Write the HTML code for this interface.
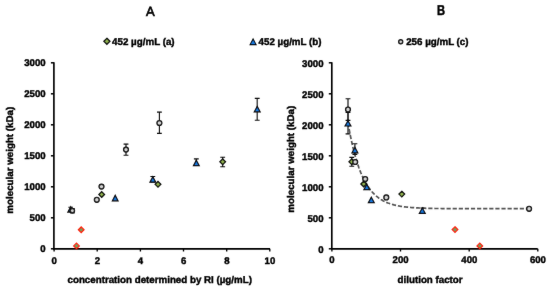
<!DOCTYPE html>
<html><head><meta charset="utf-8"><title>Figure</title>
<style>
html,body{margin:0;padding:0;background:#fff;}
svg{display:block;}
text{text-rendering:geometricPrecision;font-family:"Liberation Sans",Arial,sans-serif;font-weight:bold;fill:#000;stroke:#000;stroke-width:0.42;}
.t9{font-size:9px;}
.tl{font-size:9.5px;}
.lg{font-size:9.7px;}
.ax{stroke:#000;stroke-width:1.65;fill:none;}
.tk{stroke:#000;stroke-width:1.5;fill:none;}
.eb{stroke:#0a0a0a;stroke-width:1.1;fill:none;}
.ci{fill:#d2d2d2;stroke:#0a0a0a;stroke-width:1.35;}
.di{fill:#8fb04e;stroke:#0c0c0c;stroke-width:1.3;}
.tr{fill:#1477dc;stroke:#0a0a0a;stroke-width:1.2;}
.rd{fill:#739c5c;stroke:#ff1d0a;stroke-width:1.25;}
</style></head><body>
<svg width="550" height="289" viewBox="0 0 550 289">
<defs><filter id="soft" x="0" y="0" width="550" height="289" filterUnits="userSpaceOnUse"><feConvolveMatrix order="3" kernelMatrix="0.008 0.042 0.008 0.042 0.8 0.042 0.008 0.042 0.008" divisor="1" edgeMode="duplicate" preserveAlpha="false"/></filter></defs>
<rect width="550" height="289" fill="#fff"/>
<g filter="url(#soft)">

<text transform="translate(150.4 15.65) scale(0.97 1)" font-size="13.4" text-anchor="middle" style="font-weight:normal;stroke-width:0.65">A</text>
<text transform="translate(441.1 14.6) scale(0.78 1)" font-size="14.3" text-anchor="middle" style="stroke-width:0.5">B</text>
<path class="di" d="M106.9 38.3L109.9 41.3L106.9 44.3L103.9 41.3Z"/>
<text transform="translate(112.0 44.9) scale(1 1.004)" font-size="9.8" text-anchor="start">452 µg/mL (a)</text>
<path d="M253.1 38.9L256.1 44.6L250.1 44.6Z" fill="#1477dc" stroke="#050505" stroke-width="1.05"/>
<text transform="translate(258.6 45.0) scale(1 1.004)" font-size="9.75" text-anchor="start">452 µg/mL (b)</text>
<circle class="ci" cx="400.7" cy="41.7" r="2.0"/>
<text transform="translate(406.2 44.9) scale(1 1.004)" font-size="9.75" text-anchor="start">256 µg/mL (c)</text>
<path class="ax" d="M53.9 62.3V248.9H270"/>
<path class="tk" d="M50.9 248.8H53.9"/>
<text transform="translate(45.6 252.3) scale(1 1.004)" font-size="9.62" text-anchor="end">0</text>
<path class="tk" d="M50.9 217.8H53.9"/>
<text transform="translate(45.6 221.3) scale(1 1.004)" font-size="9.62" text-anchor="end">500</text>
<path class="tk" d="M50.9 186.8H53.9"/>
<text transform="translate(45.6 190.3) scale(1 1.004)" font-size="9.62" text-anchor="end">1000</text>
<path class="tk" d="M50.9 155.8H53.9"/>
<text transform="translate(45.6 159.3) scale(1 1.004)" font-size="9.62" text-anchor="end">1500</text>
<path class="tk" d="M50.9 124.8H53.9"/>
<text transform="translate(45.6 128.3) scale(1 1.004)" font-size="9.62" text-anchor="end">2000</text>
<path class="tk" d="M50.9 93.8H53.9"/>
<text transform="translate(45.6 97.3) scale(1 1.004)" font-size="9.62" text-anchor="end">2500</text>
<path class="tk" d="M50.9 62.8H53.9"/>
<text transform="translate(45.6 66.3) scale(1 1.004)" font-size="9.62" text-anchor="end">3000</text>
<path class="ax" d="M331.8 62.3V248.9H537.7"/>
<path class="tk" d="M328.8 248.8H331.8"/>
<text transform="translate(323.5 252.5) scale(1 1.004)" font-size="9.62" text-anchor="end">0</text>
<path class="tk" d="M328.8 217.8H331.8"/>
<text transform="translate(323.5 221.5) scale(1 1.004)" font-size="9.62" text-anchor="end">500</text>
<path class="tk" d="M328.8 186.8H331.8"/>
<text transform="translate(323.5 190.5) scale(1 1.004)" font-size="9.62" text-anchor="end">1000</text>
<path class="tk" d="M328.8 155.8H331.8"/>
<text transform="translate(323.5 159.5) scale(1 1.004)" font-size="9.62" text-anchor="end">1500</text>
<path class="tk" d="M328.8 124.8H331.8"/>
<text transform="translate(323.5 128.5) scale(1 1.004)" font-size="9.62" text-anchor="end">2000</text>
<path class="tk" d="M328.8 93.8H331.8"/>
<text transform="translate(323.5 97.5) scale(1 1.004)" font-size="9.62" text-anchor="end">2500</text>
<path class="tk" d="M328.8 62.8H331.8"/>
<text transform="translate(323.5 66.5) scale(1 1.004)" font-size="9.62" text-anchor="end">3000</text>
<path class="tk" d="M54.1 248.8V251.5" style="stroke-width:1.35"/>
<text transform="translate(54.2 263.6) scale(1 1.004)" font-size="9.6" text-anchor="middle">0</text>
<path class="tk" d="M97.2 248.8V251.5" style="stroke-width:1.35"/>
<text transform="translate(97.3 263.6) scale(1 1.004)" font-size="9.6" text-anchor="middle">2</text>
<path class="tk" d="M140.4 248.8V251.5" style="stroke-width:1.35"/>
<text transform="translate(140.5 263.6) scale(1 1.004)" font-size="9.6" text-anchor="middle">4</text>
<path class="tk" d="M183.5 248.8V251.5" style="stroke-width:1.35"/>
<text transform="translate(183.6 263.6) scale(1 1.004)" font-size="9.6" text-anchor="middle">6</text>
<path class="tk" d="M226.7 248.8V251.5" style="stroke-width:1.35"/>
<text transform="translate(226.8 263.6) scale(1 1.004)" font-size="9.6" text-anchor="middle">8</text>
<path class="tk" d="M269.8 248.8V251.5" style="stroke-width:1.35"/>
<text transform="translate(269.9 263.6) scale(1 1.004)" font-size="9.6" text-anchor="middle">10</text>
<path class="tk" d="M331.9 248.8V251.5" style="stroke-width:1.35"/>
<text transform="translate(332.0 263.4) scale(1 1.004)" font-size="9.6" text-anchor="middle">0</text>
<path class="tk" d="M400.5 248.8V251.5" style="stroke-width:1.35"/>
<text transform="translate(400.6 263.4) scale(1 1.004)" font-size="9.6" text-anchor="middle">200</text>
<path class="tk" d="M469.2 248.8V251.5" style="stroke-width:1.35"/>
<text transform="translate(469.3 263.4) scale(1 1.004)" font-size="9.6" text-anchor="middle">400</text>
<path class="tk" d="M537.8 248.8V251.5" style="stroke-width:1.35"/>
<text transform="translate(537.9 263.4) scale(1 1.004)" font-size="9.6" text-anchor="middle">600</text>
<text transform="translate(159.7 283.1) scale(1 1.004)" font-size="9.75" text-anchor="middle">concentration determined by RI (µg/mL)</text>
<text transform="translate(430.1 283.1) scale(1 1.004)" font-size="9.75" text-anchor="middle">dilution factor</text>
<text font-size="9.77" transform="translate(13 160.2) rotate(-90)" text-anchor="middle">molecular weight (kDa)</text>
<text font-size="9.77" transform="translate(294.2 159.2) rotate(-90)" text-anchor="middle">molecular weight (kDa)</text>
<path class="rd" d="M76.5 243.1L79.3 245.9L76.5 248.7L73.7 245.9Z"/>
<path class="rd" d="M81.2 227.0L84.0 229.8L81.2 232.6L78.4 229.8Z"/>
<path class="tr" d="M70.7 206.7L73.5 212.1L67.9 212.1Z"/>
<path class="eb" d="M70.7 207.2V211.3M68.4 207.2H73.0M68.4 211.3H73.0"/>
<path class="eb" d="M72.4 208.6V212.9M70.1 208.6H74.7M70.1 212.9H74.7"/>
<circle class="ci" cx="72.4" cy="210.7" r="2.1"/>
<circle class="ci" cx="96.8" cy="199.8" r="2.4"/>
<circle class="ci" cx="101.5" cy="186.6" r="2.4"/>
<path class="di" d="M101.7 191.7L104.5 194.5L101.7 197.3L98.9 194.5Z"/>
<path class="tr" d="M115.2 195.4L118.0 200.8L112.4 200.8Z"/>
<path class="eb" d="M126.0 144.1V155.2M123.6 144.1H128.4M123.6 155.2H128.4"/>
<circle class="ci" cx="126.0" cy="149.6" r="2.4"/>
<path class="eb" d="M159.4 112.1V133.4M157.0 112.1H161.8M157.0 133.4H161.8"/>
<circle class="ci" cx="159.4" cy="123.0" r="2.4"/>
<path class="eb" d="M152.8 176.5V182.0M150.4 176.5H155.2M150.4 182.0H155.2"/>
<path class="tr" d="M152.8 176.8L155.7 182.2L150.0 182.2Z"/>
<path class="di" d="M158.0 181.5L160.8 184.3L158.0 187.1L155.2 184.3Z"/>
<path class="eb" d="M196.3 158.9V165.0M193.9 158.9H198.7M193.9 165.0H198.7"/>
<path class="tr" d="M196.3 160.2L199.2 165.6L193.5 165.6Z"/>
<path class="eb" d="M222.7 157.2V166.7M220.3 157.2H225.1M220.3 166.7H225.1"/>
<path class="di" d="M222.7 159.0L225.5 161.8L222.7 164.6L219.9 161.8Z"/>
<path class="eb" d="M257.2 98.4V120.2M254.8 98.4H259.6M254.8 120.2H259.6"/>
<path class="tr" d="M257.2 106.4L260.1 111.8L254.3 111.8Z"/>
<path d="M348.0 123.0L349.0 128.6L350.0 133.8L351.0 138.7L352.0 143.3L353.0 147.6L354.0 151.6L355.0 155.3L356.0 158.8L357.0 162.1L358.0 165.1L359.0 168.0L360.0 170.6L361.0 173.1L362.0 175.4L363.0 177.6L364.0 179.6L365.0 181.5L366.0 183.3L367.0 185.0L368.0 186.5L369.0 188.0L370.0 189.3L371.0 190.6L372.0 191.8L373.0 192.9L374.0 193.9L375.0 194.9L376.0 195.8L377.0 196.6L378.0 197.4L379.0 198.2L380.0 198.8L381.0 199.5L382.0 200.1L383.0 200.7L384.0 201.2L385.0 201.7L386.0 202.1L387.0 202.6L388.0 203.0L389.0 203.3L390.0 203.7L391.0 204.0L392.0 204.3L393.0 204.6L394.0 204.9L395.0 205.1L396.0 205.4L397.0 205.6L398.0 205.8L399.0 206.0L400.0 206.2L401.0 206.3L402.0 206.5L403.0 206.6L404.0 206.8L405.0 206.9L406.0 207.0L407.0 207.1L408.0 207.2L409.0 207.3L410.0 207.4L411.0 207.5L412.0 207.6L413.0 207.6L414.0 207.7L415.0 207.8L416.0 207.8L417.0 207.9L418.0 207.9L419.0 208.0L420.0 208.0L421.0 208.1L422.0 208.1L423.0 208.2L424.0 208.2L425.0 208.2L426.0 208.3L427.0 208.3L428.0 208.3L429.0 208.3L430.0 208.4L431.0 208.4L432.0 208.4L433.0 208.4L434.0 208.4L435.0 208.5L436.0 208.5L437.0 208.5L438.0 208.5L439.0 208.5L440.0 208.5L441.0 208.5L442.0 208.6L443.0 208.6L444.0 208.6L445.0 208.6L446.0 208.6L447.0 208.6L448.0 208.6L449.0 208.6L450.0 208.6L451.0 208.6L452.0 208.6L453.0 208.6L454.0 208.6L455.0 208.6L456.0 208.6L457.0 208.6L458.0 208.6L459.0 208.7L460.0 208.7L461.0 208.7L462.0 208.7L463.0 208.7L464.0 208.7L465.0 208.7L466.0 208.7L467.0 208.7L468.0 208.7L469.0 208.7L470.0 208.7L471.0 208.7L472.0 208.7L473.0 208.7L474.0 208.7L475.0 208.7L476.0 208.7L477.0 208.7L478.0 208.7L479.0 208.7L480.0 208.7L481.0 208.7L482.0 208.7L483.0 208.7L484.0 208.7L485.0 208.7L486.0 208.7L487.0 208.7L488.0 208.7L489.0 208.7L490.0 208.7L491.0 208.7L492.0 208.7L493.0 208.7L494.0 208.7L495.0 208.7L496.0 208.7L497.0 208.7L498.0 208.7L499.0 208.7L500.0 208.7L501.0 208.7L502.0 208.7L503.0 208.7L504.0 208.7L505.0 208.7L506.0 208.7L507.0 208.7L508.0 208.7L509.0 208.7L510.0 208.7L511.0 208.7L512.0 208.7L513.0 208.7L514.0 208.7L515.0 208.7L516.0 208.7L517.0 208.7L518.0 208.7L519.0 208.7L520.0 208.7L521.0 208.7L522.0 208.7L523.0 208.7L524.0 208.7L525.0 208.7L526.0 208.7L527.0 208.7L528.0 208.7" fill="none" stroke="#555" stroke-width="1.7" stroke-dasharray="4.2 1.9"/>
<path class="rd" d="M455.0 226.8L457.8 229.6L455.0 232.4L452.2 229.6Z"/>
<path class="rd" d="M479.8 243.1L482.6 245.9L479.8 248.7L477.0 245.9Z"/>
<path class="eb" d="M348.0 98.8V120.4M345.6 98.8H350.4M345.6 120.4H350.4"/>
<path class="eb" d="M348.0 112.5V133.9M345.6 112.5H350.4M345.6 133.9H350.4"/>
<path class="tr" d="M348.0 120.7L350.9 126.0L345.1 126.0Z"/>
<circle class="ci" cx="348.0" cy="109.5" r="2.4"/>
<path class="eb" d="M354.9 143.8V154.4M352.5 143.8H357.3M352.5 154.4H357.3"/>
<path class="tr" d="M354.9 147.4L357.8 152.8L352.0 152.8Z"/>
<path class="eb" d="M351.8 157.4V166.3M349.4 157.4H354.2M349.4 166.3H354.2"/>
<path class="di" d="M351.8 159.0L354.6 161.8L351.8 164.6L349.0 161.8Z"/>
<circle class="ci" cx="355.2" cy="162.0" r="2.4"/>
<circle class="ci" cx="365.2" cy="179.0" r="2.4"/>
<path class="di" d="M363.7 181.2L366.5 184.0L363.7 186.8L360.9 184.0Z"/>
<path class="tr" d="M366.8 184.2L369.7 189.6L363.9 189.6Z"/>
<path class="tr" d="M371.3 197.2L374.2 202.6L368.4 202.6Z"/>
<circle class="ci" cx="386.3" cy="197.4" r="2.4"/>
<path class="di" d="M401.8 191.3L404.6 194.1L401.8 196.9L399.0 194.1Z"/>
<path class="eb" d="M422.3 208.0V212.5M420.5 208.0H424.1M420.5 212.5H424.1"/>
<path class="tr" d="M422.3 208.0L425.2 213.3L419.4 213.3Z"/>
<circle class="ci" cx="529.1" cy="208.8" r="2.4"/>
</g></svg></body></html>
